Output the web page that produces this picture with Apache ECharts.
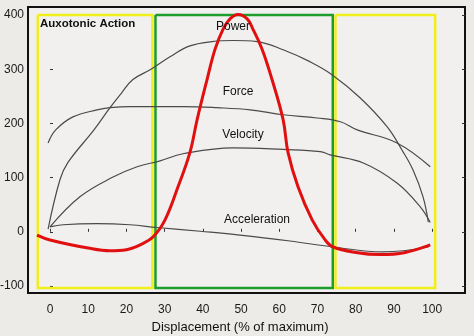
<!DOCTYPE html>
<html><head><meta charset="utf-8">
<script src="https://cdn.jsdelivr.net/npm/echarts@6/dist/echarts.min.js"></script>
<style>html,body{margin:0;padding:0;background:#ecebe8}#c{width:474px;height:336px}</style>
</head><body><div id="c"></div>
<script>
const xTicks = [0, 10, 20, 30, 40, 50, 60, 70, 80, 90, 100];
const yTicks = [-100, 0, 100, 200, 300, 400];

const powerData = [[-0.5,5],[2.6,96],[4.7,128],[11.5,188],[15.7,229],[18.8,257],[21.7,281],[26.2,299],[31.4,323],[36.6,343],[42.4,351],[48,353],[54.2,351],[61,336],[68,314],[73.8,290],[81.2,247],[88.2,194],[92.1,151],[95,114],[97.6,65],[99,18]];
const forceData = [[-0.5,164],[1.5,188],[6,212],[12.3,225],[15.7,229],[20.9,231],[28,231],[34.8,231],[43.7,229],[52.4,225],[61,216],[69.9,210],[76,203],[80.4,188],[90.8,164],[99.5,120]];
const velocityData = [[0,9],[7.9,65],[16.5,101],[22.8,120],[28.8,131],[34.8,144],[47.9,155],[61,152],[70.7,148],[73.3,142],[82,127],[90.8,90],[96.9,46],[99.5,17]];
const accelerationData = [[0,9],[3.4,13],[12.3,15],[20.9,13],[28,8],[39.3,1],[49.7,-6],[62.8,-17],[74.1,-28],[87.2,-37],[99,-28]];
const contractionData = [[-3.4,-6],[0,-15],[10,-30],[15.7,-35],[20,-33],[23.6,-24],[27,-9],[30.1,22],[33.5,83],[36.6,146],[38.5,207],[41.1,281],[43.2,337],[45.3,374],[47.1,393],[49.2,401],[51.6,393],[53.1,374],[55.5,337],[58.1,281],[61,207],[62.3,146],[64.9,83],[68.6,22],[72,-15],[74.1,-28],[80,-38],[86.4,-42],[93,-38],[99.5,-24]];

const yellowLeftBox = [[-3.2,400],[26.8,400],[26.8,-103.7],[-3.2,-103.7],[-3.2,400]];
const greenBox = [[27.6,400],[74.0,400],[74.0,-103.7],[27.6,-103.7],[27.6,400]];
const yellowRightBox = [[74.7,400],[100.8,400],[100.8,-103.7],[74.7,-103.7],[74.7,400]];

const FONT = '"Liberation Sans", Arial, Helvetica, sans-serif';
const chart = echarts.init(document.getElementById('c'), null, {renderer: 'canvas'});

function curve(name, data, color, width, smooth, z) {
  return {name, type: 'line', data, showSymbol: false, smooth, z, silent: true,
    lineStyle: {color, width, join: 'miter', cap: 'butt'}};
}

chart.setOption({
  animation: false,
  backgroundColor: '#ecebe8',
  textStyle: {fontFamily: FONT},
  grid: {left: 28, right: 9, top: 7, bottom: 43, show: true, backgroundColor: '#f1f0ee',
    borderColor: '#111', borderWidth: 2, outerBoundsMode: 'none', containLabel: false},
  xAxis: {type: 'value', min: -5.76, max: 108.6,
    axisLine: {show: false}, splitLine: {show: false},
    axisTick: {show: true, inside: true, length: 3, customValues: xTicks, lineStyle: {color: '#333'}},
    axisLabel: {customValues: xTicks, color: '#1a1a1a', fontSize: 12, margin: 11, fontFamily: FONT}},
  yAxis: [{type: 'value', min: -112.9, max: 414.8,
    axisLine: {show: false}, splitLine: {show: false},
    axisTick: {show: true, inside: true, length: 3, customValues: yTicks, lineStyle: {color: '#333'}},
    axisLabel: {customValues: yTicks, color: '#1a1a1a', fontSize: 12, margin: 4, fontFamily: FONT}},
    {type: 'value', position: 'right', min: -112.9, max: 414.8,
    axisLine: {show: false}, splitLine: {show: false},
    axisTick: {show: true, inside: true, length: 3, customValues: yTicks, lineStyle: {color: '#333'}},
    axisLabel: {show: false}}],
  series: [
    curve('Yellow left', yellowLeftBox, '#f0ee1c', 2.5, false, 2),
    curve('Green', greenBox, '#1f9d2a', 2.5, false, 2),
    curve('Yellow right', yellowRightBox, '#f0ee1c', 2.5, false, 2),
    curve('Power', powerData, '#4a4a4a', 1.2, 0.4, 3),
    curve('Force', forceData, '#4a4a4a', 1.2, 0.4, 3),
    curve('Velocity', velocityData, '#4a4a4a', 1.2, 0.4, 3),
    curve('Acceleration', accelerationData, '#4a4a4a', 1.2, 0.4, 3),
    curve('Contraction', contractionData, '#e01010', 3, 0.4, 5)
  ],
  graphic: [
    {type: 'text', left: 40, top: 18, z: 10, style: {text: 'Auxotonic Action', font: 'bold 11.5px ' + FONT, fill: '#111'}},
    {type: 'text', x: 233, y: 27, z: 10, style: {text: 'Power', font: '12px ' + FONT, fill: '#111', align: 'center', verticalAlign: 'middle'}},
    {type: 'text', x: 238, y: 92, z: 10, style: {text: 'Force', font: '12px ' + FONT, fill: '#111', align: 'center', verticalAlign: 'middle'}},
    {type: 'text', x: 243, y: 135, z: 10, style: {text: 'Velocity', font: '12px ' + FONT, fill: '#111', align: 'center', verticalAlign: 'middle'}},
    {type: 'text', x: 257, y: 220, z: 10, style: {text: 'Acceleration', font: '12px ' + FONT, fill: '#111', align: 'center', verticalAlign: 'middle'}},
    {type: 'text', x: 240, y: 327, z: 10, style: {text: 'Displacement (% of maximum)', font: '13px ' + FONT, fill: '#111', align: 'center', verticalAlign: 'middle'}}
  ]
});
</script></body></html>
